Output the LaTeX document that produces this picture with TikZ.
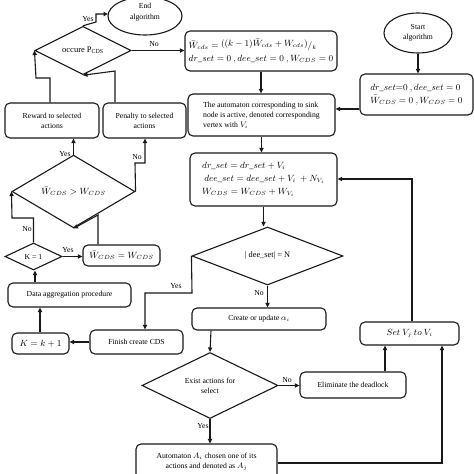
\documentclass[tikz,border=0pt]{standalone}
\usepackage{fontspec}
\setmainfont{Liberation Serif}
\usetikzlibrary{shapes.geometric,arrows.meta}
\begin{document}
\begin{tikzpicture}[x=1pt,y=-1pt,
  font=\fontsize{7.7}{10}\selectfont,
  mfont/.style={font=\fontsize{8.6}{11}\selectfont},
  box/.style={draw=black!90, line width=1.1pt, rounded corners=5pt, inner sep=2pt, align=center},
  dia/.style={draw=black!90, line width=1.1pt, diamond, inner sep=0pt, align=center},
  ell/.style={draw=black!90, line width=1.1pt, ellipse, inner sep=0pt},
  txt/.style={inner sep=0pt},
  lbl/.style={inner sep=0.5pt},
  arr/.style={draw=black!90, line width=1.1pt, -{Triangle[length=4.5pt,width=4.2pt]}}]
\useasboundingbox (0,0) rectangle (474,474);
\fill[white] (0,0) rectangle (474,474);

% ellipses
\node[ell, minimum width=74pt, minimum height=38pt] (endA) at (145,16) {};
\node[txt, align=center] (endT) at (145,12.5) {End\\[1pt]algorithm};
\node[ell, minimum width=68pt, minimum height=40pt, align=center] (startA) at (418,33) {Start\\algorithm};

% boxes
\node[box, mfont, minimum width=152pt, minimum height=40pt, align=left] (wbar) at (261,51)
  {$\bar{W}_{cds} = \raisebox{2pt}{$((k-1)\bar{W}_{cds}+W_{cds})$}/_{k}$\\[2pt]
   $dr\_set = 0\ ,dee\_set = 0\ ,W_{CDS} = 0$};
\node[box, minimum width=147pt, minimum height=42pt, align=left] (autom) at (261.5,115)
  {\fontsize{7.7}{9.5}\selectfont The automaton corresponding to sink\\node is active, denoted corresponding\\vertex with $V_i$};
\node[box, mfont, minimum width=113pt, minimum height=41pt, align=left] (init) at (416.5,94.5)
  {$dr\_set{=}0\ , dee\_set = 0$\\[2pt]$\bar{W}_{CDS} = 0\ ,W_{CDS} = 0$};
\node[box, minimum width=94pt, minimum height=35pt] (reward) at (52,120.5)
  {\fontsize{7.7}{11.5}\selectfont Reward to selected\\actions};
\node[box, minimum width=83pt, minimum height=35pt] (penalty) at (144.5,120.5)
  {\fontsize{7.7}{11.5}\selectfont Penalty to selected\\actions};
\node[box, mfont, minimum width=147pt, minimum height=53pt, align=left] (drset) at (263.5,179.5)
  {$dr\_set = dr\_set + V_i$\\[2pt]$\ dee\_set = dee\_set + V_i\ + N_{V_i}$\\[2pt]$W_{CDS} = W_{CDS} + W_{V_i}$};
\node[box, mfont, minimum width=77pt, minimum height=21pt] (wbareq) at (121.5,255.5) {$\bar{W}_{CDS} = W_{CDS}$};
\node[box, minimum width=123pt, minimum height=24pt] (dataagg) at (69.5,295) {Data aggregation procedure};
\node[box, mfont, minimum width=57pt, minimum height=21pt] (kk1) at (40.5,343.5) {$K = k + 1$};
\node[box, minimum width=93pt, minimum height=24pt] (finish) at (136.5,342) {Finish create CDS};
\node[box, minimum width=134pt, minimum height=22pt] (create) at (259,319) {Create or update $\alpha_i$};
\node[box, mfont, minimum width=99pt, minimum height=23pt] (setv) at (409.5,333.5) {$Set\ V_j\ to\ V_i$};
\node[box, minimum width=106pt, minimum height=26pt] (elim) at (353,385) {Eliminate the deadlock};
\node[box, minimum width=141pt, minimum height=46pt] (autoA) at (206.5,467) {};
\node[txt, align=center] (autoAT) at (206.5,461.5)
  {\fontsize{7.7}{13}\selectfont Automaton $A_i$ chosen one of its\\actions and denoted as $A_j$};

% diamonds
\node[dia, minimum width=96pt, minimum height=43pt] (occ) at (83,50.5) {\fontsize{8.5}{10}\selectfont occure P$_{\mathrm{CDS}}$};
\node[dia, mfont, minimum width=123pt, minimum height=47pt] (wcmp) at (73.5,191.5) {$\bar{W}_{CDS} > W_{CDS}$};
\node[dia, minimum width=57pt, minimum height=27pt] (k1) at (33.5,256.5) {K = 1};
\node[dia, minimum width=151pt, minimum height=58pt] (dee) at (267.5,256) {\fontsize{8.3}{10}\selectfont | dee\_set| = N};
\node[dia, minimum width=136pt, minimum height=65pt] (exist) at (210,385.5)
  {\fontsize{7.7}{11.5}\selectfont Exist actions for\\select};

% connectors
\draw[arr] (startA.south) -- (startA.south |- init.north);
\draw[arr] (init.west |- 0,109) -- (autom.east |- 0,109);
\draw[arr] (wbar.south) -- (wbar.south |- autom.north);
\draw[arr] (autom.south) -- (autom.south |- drset.north);
\draw[arr] (drset.south) -- (drset.south |- dee.north);
\draw[arr] (dee.south) -- (dee.south |- create.north);
\draw[arr] (dee.west) -- (192,293) -- (145,293) -- (145,0 |- finish.north);
\draw[arr] (finish.west) -- (finish.west -| kk1.east);
\draw[arr] (kk1.north -| 40,0) -- (dataagg.south -| 40,0);
\draw[arr] (dataagg.north -| 35,0) -- (k1.south -| 35,0);
\draw[arr] (k1.east) -- (k1.east -| wbareq.west);
\draw[arr] (k1.north) -- (33.5,218) -- (12,218) -- (wcmp.west);
\draw[arr] (wbareq.north -| 98,0) -- (98,215) -- (wcmp.south);
\draw[arr] (wcmp.north) -- (wcmp.north |- reward.south);
\draw[arr] (wcmp.east) -- (135,163) -- (145,163) -- (145,0 |- penalty.south);
\draw[arr] (reward.north -| 50,0) -- (50,78) -- (36,78) -- (occ.west);
\draw[arr] (penalty.north -| 115,0) -- (115,71) -- (occ.south);
\draw[arr] (occ.north) -- (96,22) -- (96,14) -- (108,14);
\draw[arr] (occ.east) -- (occ.east -| wbar.west);
\draw[arr] (create.south -| 211,0) -- (exist.north);
\draw[arr] (exist.east) -- (exist.east -| elim.west);
\draw[arr] (exist.south) -- (exist.south |- autoA.north);
\draw[arr] (elim.north -| 385,0) -- (setv.south -| 385,0);
\draw[arr] (autoA.east |- 0,463) -- (442,463) -- (setv.south -| 442,0);
\draw[arr] (setv.north -| 412,0) -- (412,179) -- (drset.east |- 0,179);

% labels
\node[lbl] (l1) at (88,19) {Yes};
\node[lbl] (l2) at (154,44) {No};
\node[lbl] (l3) at (65,154) {Yes};
\node[lbl] (l4) at (137,157) {No};
\node[lbl] (l5) at (27,229) {No};
\node[lbl] (l6) at (68,250) {Yes};
\node[lbl] (l7) at (176,286) {Yes};
\node[lbl] (l8) at (259,293) {No};
\node[lbl] (l9) at (287,380) {No};
\node[lbl] (l10) at (203,426) {Yes};
\end{tikzpicture}
\end{document}
